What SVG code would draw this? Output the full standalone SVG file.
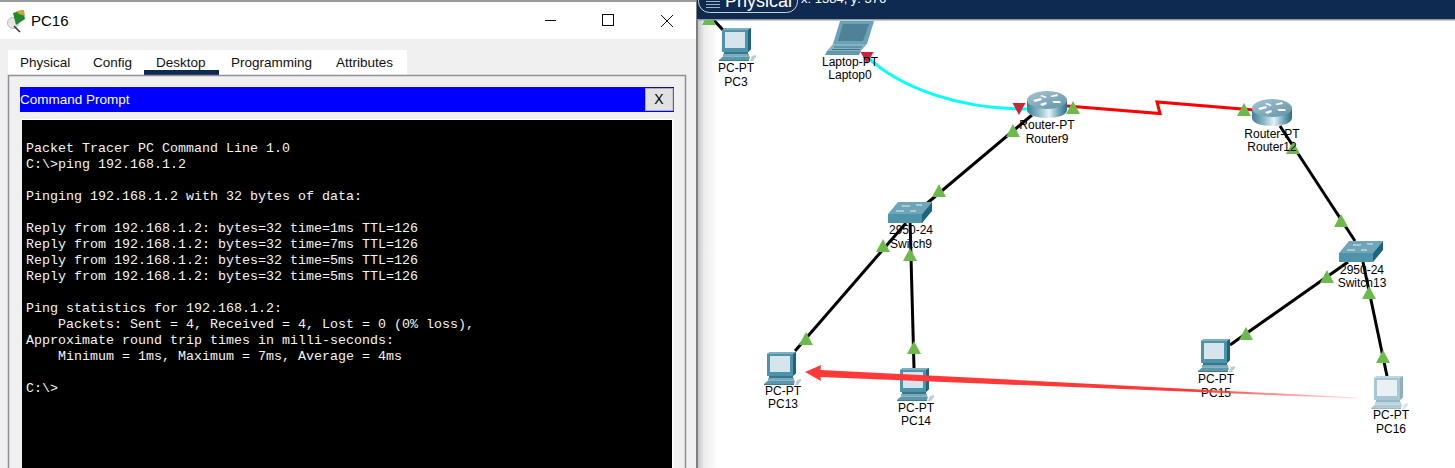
<svg xmlns="http://www.w3.org/2000/svg" width="1455" height="468" viewBox="0 0 1455 468">
<style>
text{font-family:"Liberation Sans",Arial,sans-serif;fill:#000}
.lb{font-size:12px;text-anchor:middle}
.tab{font-size:13.500px;fill:#111}
.term{font-family:"Liberation Mono","Courier New",monospace;font-size:13.33px;fill:#f4f4f4}
.cu{fill:none;stroke:#000;stroke-width:3}
.up{fill:#6cbb4a}
.dn{fill:#c9243a}
.wb{fill:none;stroke:#111;stroke-width:1}
</style>
<defs>
<linearGradient id="shade" x1="0" x2="1" y1="0" y2="0"><stop offset="0" stop-color="#c4c4c4"/><stop offset=".3" stop-color="#ececec"/><stop offset="1" stop-color="#fff"/></linearGradient>
<linearGradient id="cyl" x1="0" x2="1" y1="0" y2="0"><stop offset="0" stop-color="#3f7f96"/><stop offset=".3" stop-color="#8cb9c8"/><stop offset=".55" stop-color="#e6f1f4"/><stop offset=".8" stop-color="#6ea3b5"/><stop offset="1" stop-color="#2f7086"/></linearGradient>
<linearGradient id="cap" x1="0" x2="1" y1="0" y2="1"><stop offset="0" stop-color="#a8c6d2"/><stop offset="1" stop-color="#5e93a8"/></linearGradient>
<linearGradient id="arrowfade" gradientUnits="userSpaceOnUse" x1="805" y1="372" x2="1357" y2="398"><stop offset="0" stop-color="#ff3838"/><stop offset=".7" stop-color="#ff3838"/><stop offset="1" stop-color="#ff3838" stop-opacity=".15"/></linearGradient>
<g id="pc">
<path d="M0 2L3 0H29V21L26 24H0Z" fill="#1f6f8b"/>
<path d="M0 2H26V24H0Z" fill="#4f93ab"/>
<path d="M26 2L29 0V21L26 24Z" fill="#1c6580"/>
<path d="M0 2L3 0H29L26 2Z" fill="#7fb0c2"/>
<rect x="3" y="4" width="20" height="16" fill="#d6e4ec"/>
<rect x="2" y="24" width="24" height="2" fill="#2f7a92"/>
<rect x="1" y="26" width="26" height="2.500" fill="#7fa9ba"/>
<path d="M1 28.500H28L27 32H-3Z" fill="#5d97ac"/>
<path d="M-3 32H27V33H-3Z" fill="#3d7e96"/>
<path d="M30 28L34 27V29L31 33H28Z" fill="#b6cfd9"/>
</g>
<g id="router">
<path d="M0 9V19C0 24 9 27 20 27S40 24 40 19V9Z" fill="url(#cyl)"/>
<ellipse cx="20" cy="9" rx="20" ry="9" fill="url(#cap)"/>
<path d="M6 9L14 7L15 9L8 11ZM23 5L30 3L31 5L25 6ZM25 10L33 10L34 12L27 12ZM13 13L19 11L20 13L15 15ZM15 4L20 6L18 7L13 5Z" fill="#fff"/>
</g>
<g id="switch">
<path d="M0 12L10 0H44L34 12Z" fill="#70a4b8"/>
<rect x="0" y="12" width="34" height="9" fill="#4f93ab"/>
<path d="M34 12L44 0V9L34 21Z" fill="#1c6580"/>
<path d="M14 4H22M28 3H34M8 9H16M22 9H28" stroke="#e4eff3" stroke-width="1" fill="none"/>
</g>
<g id="laptop">
<path d="M15 0H49L42 23H8Z" fill="#69a3b8"/>
<path d="M18 3H44L38 20H13Z" fill="#4f8296"/>
<path d="M8 23H42L36 30H2Z" fill="#86b3c3"/>
<path d="M2 30H36L34 34H0Z" fill="#5f99ae"/>
<path d="M9 26H37M7 28.500H35" stroke="#3c7488" stroke-width="1" fill="none"/>
</g>
<path id="t-up" d="M0 0L7 13H-7Z"/>
<path id="t-dn" d="M-6.500 0H6.500L0 12Z"/>
</defs>

<rect width="1455" height="468" fill="#fff"/>

<g id="pc16-window">
<rect x="0" y="0" width="697" height="468" fill="#f0f0f0"/>
<rect x="0" y="2" width="697" height="37" fill="#fff"/>
<rect x="0" y="0" width="697" height="2" fill="#9a9a9a"/>
<circle cx="13" cy="23" r="5.500" fill="#e6e6e6" stroke="#bbb"/>
<path d="M14 26L20 32" stroke="#333" stroke-width="1.500"/>
<path d="M13 13L23 10L25 19L16 25Z" fill="#1e8a2e"/>
<path d="M16 11L24 10L25 16L19 14Z" fill="#c9a53c"/>
<text x="31" y="26" font-size="15">PC16</text>
<path class="wb" d="M545 20.500H556"/>
<rect class="wb" x="602.500" y="14.500" width="11" height="11"/>
<path class="wb" d="M661 15L673 27M673 15L661 27"/>
<rect x="8" y="50" width="399" height="25" fill="#fff"/>
<rect x="144" y="70" width="75" height="5" fill="#0f2a50"/>
<text class="tab" x="20" y="67">Physical</text>
<text class="tab" x="93" y="67">Config</text>
<text class="tab" x="156" y="67">Desktop</text>
<text class="tab" x="231" y="67">Programming</text>
<text class="tab" x="336" y="67">Attributes</text>
<path d="M8.500 468V75.500H685.500V468" fill="none" stroke="#8f8f98" stroke-width="1.500"/>
<rect x="20" y="87" width="654" height="25" fill="#0000ff"/>
<text x="20" y="104" font-size="13.500" style="fill:#fff">Command Prompt</text>
<rect x="645.500" y="88.500" width="27.500" height="22" fill="#e1e1e1" stroke="#adadad"/>
<text x="659" y="104" font-size="14" text-anchor="middle">X</text>
<rect x="22" y="119" width="652" height="349" fill="#fff"/>
<rect x="22" y="120" width="650" height="348" fill="#000"/>
<text class="term" x="26" y="152">Packet Tracer PC Command Line 1.0</text>
<text class="term" x="26" y="168">C:\&gt;ping 192.168.1.2</text>
<text class="term" x="26" y="200">Pinging 192.168.1.2 with 32 bytes of data:</text>
<text class="term" x="26" y="232">Reply from 192.168.1.2: bytes=32 time=1ms TTL=126</text>
<text class="term" x="26" y="248">Reply from 192.168.1.2: bytes=32 time=7ms TTL=126</text>
<text class="term" x="26" y="264">Reply from 192.168.1.2: bytes=32 time=5ms TTL=126</text>
<text class="term" x="26" y="280">Reply from 192.168.1.2: bytes=32 time=5ms TTL=126</text>
<text class="term" x="26" y="312">Ping statistics for 192.168.1.2:</text>
<text class="term" x="58" y="328">Packets: Sent = 4, Received = 4, Lost = 0 (0% loss),</text>
<text class="term" x="26" y="344">Approximate round trip times in milli-seconds:</text>
<text class="term" x="58" y="360">Minimum = 1ms, Maximum = 7ms, Average = 4ms</text>
<text class="term" x="26" y="392">C:\&gt;</text>
<rect x="696" y="0" width="2" height="468" fill="#7d7d85"/>
</g>

<g id="workspace">
<rect x="698" y="20" width="757" height="448" fill="#fff"/>
<rect x="698" y="20" width="20" height="448" fill="url(#shade)"/>
</g>

<g id="connectors">
<path d="M866 56C900 88 960 110 1030 109" fill="none" stroke="#00ffff" stroke-width="3"/>
<path d="M1067 106L1160 113.500L1157 102L1254 110" fill="none" stroke="#ff0000" stroke-width="3"/>
<path class="cu" d="M1032 115L925 205"/>
<path class="cu" d="M795 351L906 223"/>
<path class="cu" d="M910 220L914 368"/>
<path class="cu" d="M1280 126L1355 241"/>
<path class="cu" d="M1348 262L1230 345"/>
<path class="cu" d="M1363 262L1387 376"/>
<path class="cu" d="M708 14L723 30"/>
</g>

<g id="link-lights">
<use class="up" href="#t-up" x="709" y="12"/>
<use class="dn" href="#t-dn" x="867" y="52"/>
<use class="dn" href="#t-dn" x="1019" y="103"/>
<use class="up" href="#t-up" x="1073" y="101"/>
<use class="up" href="#t-up" x="1013" y="124"/>
<use class="up" href="#t-up" x="1244" y="103"/>
<use class="up" href="#t-up" x="1293" y="141"/>
<use class="up" href="#t-up" x="939" y="184"/>
<use class="up" href="#t-up" x="883" y="239"/>
<use class="up" href="#t-up" x="910" y="248"/>
<use class="up" href="#t-up" x="806" y="332"/>
<use class="up" href="#t-up" x="914" y="341"/>
<use class="up" href="#t-up" x="1341" y="214"/>
<use class="up" href="#t-up" x="1327" y="270"/>
<use class="up" href="#t-up" x="1369" y="286"/>
<use class="up" href="#t-up" x="1246" y="327"/>
<use class="up" href="#t-up" x="1383" y="350"/>
</g>

<g id="PC3"><use href="#pc" x="722" y="28"/><text class="lb" x="736" y="72">PC-PT</text><text class="lb" x="736" y="86">PC3</text></g>
<g id="Laptop0"><use href="#laptop" x="825" y="21"/><text class="lb" x="850" y="66">Laptop-PT</text><text class="lb" x="850" y="79">Laptop0</text></g>
<g id="Router9"><use href="#router" x="1027" y="91"/><text class="lb" x="1047" y="129">Router-PT</text><text class="lb" x="1047" y="143">Router9</text></g>
<g id="Router12"><use href="#router" x="1252" y="99"/><text class="lb" x="1272" y="138">Router-PT</text><text class="lb" x="1272" y="151">Router12</text></g>
<g id="Switch9"><use href="#switch" x="888" y="202"/><text class="lb" x="911" y="234">2950-24</text><text class="lb" x="911" y="248">Switch9</text></g>
<g id="Switch13"><use href="#switch" x="1339" y="241"/><text class="lb" x="1362" y="274">2950-24</text><text class="lb" x="1362" y="287">Switch13</text></g>
<g id="PC13"><use href="#pc" x="767" y="352"/><text class="lb" x="783" y="395">PC-PT</text><text class="lb" x="783" y="408">PC13</text></g>
<g id="PC14"><use href="#pc" x="900" y="368"/><text class="lb" x="916" y="412">PC-PT</text><text class="lb" x="916" y="425">PC14</text></g>
<g id="PC15"><use href="#pc" x="1201" y="339"/><text class="lb" x="1216" y="383">PC-PT</text><text class="lb" x="1216" y="397">PC15</text></g>
<g id="PC16"><use href="#pc" x="1374" y="376" opacity=".5"/><text class="lb" x="1391" y="419">PC-PT</text><text class="lb" x="1391" y="433">PC16</text></g>

<g id="header">
<rect x="697" y="0" width="758" height="19" fill="#0f2a50"/>
<rect x="697" y="19" width="758" height="1.500" fill="#8f9aa8"/>
<rect x="698.500" y="-10" width="99" height="22.500" rx="11" fill="none" stroke="#c8d0da"/>
<path d="M706 1.500H720M706 4.500H720M706 7.500H720" stroke="#9fb0c4" stroke-width="1"/>
<text x="725" y="7" font-size="18" style="fill:#fff">Physical</text>
<text x="801" y="3" font-size="13" style="fill:#fff">x: 1384, y: 376</text>
</g>

<polygon id="annotation-arrow" points="805,372 821,365 820.500,370 1357,397.500 1357,398.500 820.500,377 821,381" fill="url(#arrowfade)"/>
</svg>
